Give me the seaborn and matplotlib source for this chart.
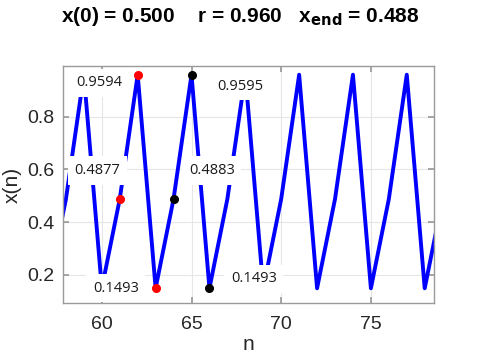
import numpy as np
import pandas as pd
import seaborn as sns
import matplotlib
matplotlib.use("Agg")
import matplotlib.pyplot as plt

# iterates of the map, n = 57..79
n_vals = [57, 58, 59, 60, 61, 62, 63, 64, 65, 66, 67, 68,
          69, 70, 71, 72, 73, 74, 75, 76, 77, 78, 79]
x_vals = [0.1493, 0.4877, 0.9594, 0.1493, 0.4877, 0.9594, 0.1493, 0.4883,
          0.9595, 0.1493, 0.4883, 0.9595, 0.1493, 0.4880, 0.9595, 0.1493,
          0.4880, 0.9595, 0.1493, 0.4880, 0.9595, 0.1493, 0.4880]

red_n = [61, 62, 63]
red_x = [0.4877, 0.9594, 0.1493]
black_n = [64, 65, 66]
black_x = [0.4883, 0.9595, 0.1493]

labels = ["0.9594", "0.4877", "0.1493", "0.4883", "0.9595", "0.1493"]
label_n = [59.85, 59.74, 60.79, 66.14, 67.7, 68.47]
label_x = [0.929, 0.596, 0.150, 0.596, 0.916, 0.185]

df = pd.DataFrame({"n": n_vals, "x": x_vals})

sns.set_theme(style="whitegrid")
plt.rcParams['font.family'] = ['Liberation Sans', 'DejaVu Sans']

fig = plt.figure(figsize=(4.8, 3.6), dpi=100)
ax = fig.add_axes([0.131, 0.158, 0.774, 0.659])

sns.lineplot(data=df, x="n", y="x", color=(0, 0, 1), linewidth=2.8, ax=ax, zorder=2)
ax.plot(red_n, red_x, 'o', color='red', markersize=5.5, zorder=3)
ax.plot(black_n, black_x, 'o', color='black', markersize=5.5, zorder=3)

for t, tn, tx in zip(labels, label_n, label_x):
    ax.text(tn, tx, t, ha='center', va='center', fontsize=10.5, color='#1a1a1a',
            family=['Open Sans', 'DejaVu Sans'], zorder=4,
            bbox=dict(boxstyle='square,pad=0.45', facecolor='white', edgecolor='none'))

ax.set_xlim(57.83, 78.54)
ax.set_ylim(0.093, 0.993)
ax.set_xticks([60, 65, 70, 75])
ax.set_yticks([0.2, 0.4, 0.6, 0.8])
ax.set_yticklabels(["0.2", "0.4", "0.6", "0.8"])
ax.grid(True, color='#e6e6e6', linewidth=0.8)
ax.set_facecolor('white')
for s in ax.spines.values():
    s.set_color('#9a9a9a')
    s.set_linewidth(1.0)
ax.tick_params(direction='in', length=4, color='#9a9a9a', labelsize=14,
               labelcolor='#262626', top=True, right=True, bottom=True, left=True,
               labeltop=False, labelright=False)
ax.tick_params(axis='x', pad=9)
ax.tick_params(axis='y', pad=6)

ax.set_xlabel("n", fontsize=15, color='#262626', labelpad=2)
ax.set_ylabel("x(n)", fontsize=15, color='#262626', labelpad=4)

fig.text(0.5, 0.953, r"x(0) = 0.500    r = 0.960   x$_{\mathbf{end}}$ = 0.488",
         ha='center', va='center', fontsize=15, fontweight='bold', color='black')

fig.savefig("out.png", dpi=100, facecolor='white')
